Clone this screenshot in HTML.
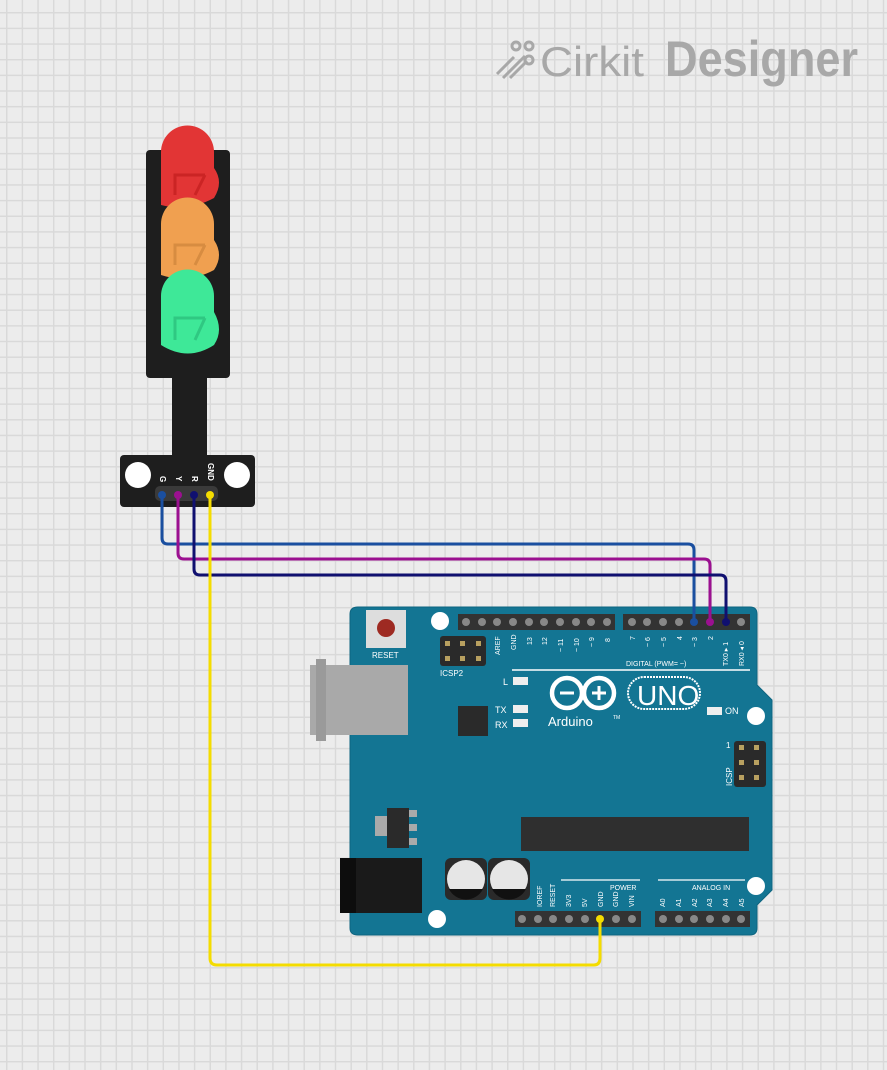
<!DOCTYPE html>
<html><head><style>
html,body{margin:0;padding:0}
body{width:887px;height:1070px;overflow:hidden;background-color:#ececec;
background-image:linear-gradient(to right,#d9d9d9 1.3px,transparent 1.3px),linear-gradient(to bottom,#d9d9d9 1.3px,transparent 1.3px);
background-size:15.67px 15.67px;background-position:6px 12px;font-family:"Liberation Sans",sans-serif}
svg{position:absolute;left:0;top:0}
</style></head><body>
<svg width="887" height="1070" viewBox="0 0 887 1070" font-family="Liberation Sans, sans-serif">
<!-- logo -->
<g stroke="#a8a8a8" stroke-width="3" fill="none">
<line x1="497" y1="74" x2="514" y2="57"/><line x1="503" y1="78" x2="525" y2="56"/><line x1="510" y1="78" x2="527" y2="61"/>
<circle cx="516" cy="46" r="4"/><circle cx="529" cy="46" r="4"/><circle cx="529" cy="60" r="4"/>
</g>
<text x="540" y="76" font-size="42" fill="#a8a8a8" textLength="104" lengthAdjust="spacingAndGlyphs">Cirkit</text>
<text x="665" y="76" font-size="50" font-weight="bold" fill="#a8a8a8" textLength="193" lengthAdjust="spacingAndGlyphs">Designer</text>

<!-- traffic light -->
<rect x="146" y="150" width="84" height="228" rx="4" fill="#1e1e1e"/>
<rect x="172" y="370" width="35" height="90" fill="#1e1e1e"/>
<rect x="120" y="455" width="135" height="52" rx="4" fill="#1e1e1e"/>
<circle cx="138" cy="475" r="13" fill="#fff"/><circle cx="237" cy="475" r="13" fill="#fff"/>
<g font-size="8" fill="#fff" font-weight="bold">
<text transform="translate(160,476) rotate(90)">G</text>
<text transform="translate(176,476) rotate(90)">Y</text>
<text transform="translate(192,476) rotate(90)">R</text>
<text transform="translate(208,463) rotate(90)">GND</text>
</g>
<rect x="155" y="486" width="63" height="15" rx="5" fill="#3a3a3a"/>
<g>
<path d="M161 205 V152 A26.5 26.5 0 0 1 214 152 V168 Q224 182 214 198 Q188 212 161 205 Z" fill="#e23535"/>
<path d="M161 275 V224 A26.5 26.5 0 0 1 214 224 V240 Q224 255 214 270 Q188 284 161 275 Z" fill="#f0a050"/>
<path d="M161 345 V296 A26.5 26.5 0 0 1 214 296 V312 Q224 330 214 345 Q188 362 161 345 Z" fill="#3ee898"/>
<g stroke-width="3" fill="none" opacity=".3"><path d="M175 195 L175 175 L205 175 M195 195 L205 175" stroke="#900"/><path d="M175 265 L175 245 L205 245 M195 265 L205 245" stroke="#a06020"/><path d="M175 340 L175 318 L205 318 M195 340 L205 318" stroke="#108050"/></g>
</g>

<!-- arduino -->
<path d="M358 607 H750 Q757 607 757 614 V685 L772 700 V890 L757 905 V928 Q757 935 750 935 H358 Q350 935 350 928 V614 Q350 607 358 607Z" fill="#137593" stroke="#0e6580"/>
<rect x="310" y="665" width="98" height="70" fill="#a9a9a9"/><rect x="316" y="659" width="10" height="82" fill="#9a9a9a"/>
<rect x="366" y="610" width="40" height="38" fill="#ddd"/><circle cx="386" cy="628" r="9" fill="#9e2a22"/>
<text x="372" y="658" font-size="8" fill="#fff">RESET</text>
<circle cx="440" cy="621" r="9" fill="#fff"/><circle cx="756" cy="716" r="9" fill="#fff"/><circle cx="756" cy="886" r="9" fill="#fff"/><circle cx="437" cy="919" r="9" fill="#fff"/>
<rect x="458" y="614" width="157" height="16" fill="#333"/><rect x="623" y="614" width="127" height="16" fill="#333"/>
<g fill="#888">
<circle cx="466" cy="622" r="4"/><circle cx="482" cy="622" r="4"/><circle cx="497" cy="622" r="4"/><circle cx="513" cy="622" r="4"/><circle cx="529" cy="622" r="4"/><circle cx="544" cy="622" r="4"/><circle cx="560" cy="622" r="4"/><circle cx="576" cy="622" r="4"/><circle cx="591" cy="622" r="4"/><circle cx="607" cy="622" r="4"/>
<circle cx="632" cy="622" r="4"/><circle cx="647" cy="622" r="4"/><circle cx="663" cy="622" r="4"/><circle cx="679" cy="622" r="4"/><circle cx="741" cy="622" r="4"/>
</g>
<rect x="440" y="636" width="46" height="30" rx="3" fill="#2a2a2a"/>
<g fill="#b8a060"><rect x="445" y="641" width="5" height="5"/><rect x="460" y="641" width="5" height="5"/><rect x="476" y="641" width="5" height="5"/><rect x="445" y="656" width="5" height="5"/><rect x="460" y="656" width="5" height="5"/><rect x="476" y="656" width="5" height="5"/></g>
<text x="440" y="676" font-size="8" fill="#fff">ICSP2</text>
<g font-size="7" fill="#fff">
<text transform="translate(500,655) rotate(-90)">AREF</text><text transform="translate(516,650) rotate(-90)">GND</text>
<text transform="translate(532,645) rotate(-90)">13</text><text transform="translate(547,645) rotate(-90)">12</text>
<text transform="translate(563,652) rotate(-90)">~ 11</text><text transform="translate(579,652) rotate(-90)">~ 10</text>
<text transform="translate(594,647) rotate(-90)">~ 9</text><text transform="translate(610,642) rotate(-90)">8</text>
<text transform="translate(635,640) rotate(-90)">7</text><text transform="translate(650,647) rotate(-90)">~ 6</text>
<text transform="translate(666,647) rotate(-90)">~ 5</text><text transform="translate(682,640) rotate(-90)">4</text>
<text transform="translate(697,647) rotate(-90)">~ 3</text><text transform="translate(713,640) rotate(-90)">2</text>
<text transform="translate(728,666) rotate(-90)">TX0 ▸ 1</text><text transform="translate(744,666) rotate(-90)">RX0 ◂ 0</text>
<text x="626" y="666">DIGITAL (PWM=   ~)</text>
</g>
<line x1="512" y1="670" x2="750" y2="670" stroke="#fff" stroke-width="1.5"/>
<g fill="#eee"><rect x="513" y="677" width="15" height="8"/><rect x="513" y="705" width="15" height="8"/><rect x="513" y="719" width="15" height="8"/><rect x="707" y="707" width="15" height="8"/></g>
<g font-size="9" fill="#fff"><text x="503" y="685">L</text><text x="495" y="713">TX</text><text x="495" y="728">RX</text><text x="725" y="714">ON</text></g>
<rect x="458" y="706" width="30" height="30" fill="#2a2a2a"/>
<g stroke="#fff" stroke-width="4.5" fill="none"><circle cx="567" cy="693" r="15"/><circle cx="599" cy="693" r="15"/></g>
<g stroke="#fff" stroke-width="3"><line x1="560" y1="693" x2="574" y2="693"/><line x1="592" y1="693" x2="606" y2="693"/><line x1="599" y1="686" x2="599" y2="700"/></g>
<rect x="628" y="677" width="72" height="32" rx="16" fill="none" stroke="#fff" stroke-width="2" stroke-dasharray="2 1"/>
<text x="637" y="705" font-size="28" fill="#fff">UNO</text>
<text x="548" y="726" font-size="13" fill="#fff">Arduino</text><text x="613" y="719" font-size="5" fill="#fff">TM</text>
<rect x="734" y="741" width="32" height="46" rx="3" fill="#2a2a2a"/>
<g fill="#b8a060"><rect x="739" y="745" width="5" height="5"/><rect x="739" y="760" width="5" height="5"/><rect x="739" y="775" width="5" height="5"/><rect x="754" y="745" width="5" height="5"/><rect x="754" y="760" width="5" height="5"/><rect x="754" y="775" width="5" height="5"/></g>
<text x="726" y="748" font-size="8" fill="#fff">1</text><text transform="translate(732,786) rotate(-90)" font-size="8" fill="#fff">ICSP</text>
<rect x="521" y="817" width="228" height="34" fill="#2f2f2f"/>
<rect x="375" y="816" width="12" height="20" fill="#aaa"/><rect x="387" y="808" width="22" height="40" fill="#2a2a2a"/><g fill="#aaa"><rect x="409" y="810" width="8" height="7"/><rect x="409" y="824" width="8" height="7"/><rect x="409" y="838" width="8" height="7"/></g>
<rect x="340" y="858" width="82" height="55" fill="#1a1a1a"/><rect x="340" y="858" width="16" height="55" fill="#0d0d0d"/>
<rect x="445" y="858" width="42" height="42" rx="6" fill="#2a2a2a"/><rect x="488" y="858" width="42" height="42" rx="6" fill="#2a2a2a"/>
<circle cx="466" cy="879" r="19" fill="#e6e6e6"/><circle cx="509" cy="879" r="19" fill="#e6e6e6"/>
<path d="M449 889 A19 19 0 0 0 483 889Z M492 889 A19 19 0 0 0 526 889Z" fill="#111"/>
<line x1="561" y1="880" x2="640" y2="880" stroke="#fff" stroke-width="1.2"/><line x1="658" y1="880" x2="745" y2="880" stroke="#fff" stroke-width="1.2"/>
<g font-size="7" fill="#fff"><text x="610" y="890">POWER</text><text x="692" y="890">ANALOG IN</text>
<text transform="translate(542,907) rotate(-90)">IOREF</text><text transform="translate(555,907) rotate(-90)">RESET</text>
<text transform="translate(571,907) rotate(-90)">3V3</text><text transform="translate(587,907) rotate(-90)">5V</text>
<text transform="translate(603,907) rotate(-90)">GND</text><text transform="translate(618,907) rotate(-90)">GND</text><text transform="translate(634,907) rotate(-90)">VIN</text>
<text transform="translate(665,907) rotate(-90)">A0</text><text transform="translate(681,907) rotate(-90)">A1</text><text transform="translate(697,907) rotate(-90)">A2</text><text transform="translate(712,907) rotate(-90)">A3</text><text transform="translate(728,907) rotate(-90)">A4</text><text transform="translate(744,907) rotate(-90)">A5</text></g>
<rect x="515" y="911" width="126" height="16" fill="#333"/><rect x="655" y="911" width="95" height="16" fill="#333"/>
<g fill="#888"><circle cx="522" cy="919" r="4"/><circle cx="538" cy="919" r="4"/><circle cx="553" cy="919" r="4"/><circle cx="569" cy="919" r="4"/><circle cx="585" cy="919" r="4"/><circle cx="616" cy="919" r="4"/><circle cx="632" cy="919" r="4"/>
<circle cx="663" cy="919" r="4"/><circle cx="679" cy="919" r="4"/><circle cx="694" cy="919" r="4"/><circle cx="710" cy="919" r="4"/><circle cx="726" cy="919" r="4"/><circle cx="741" cy="919" r="4"/></g>

<!-- wires -->
<g fill="none" stroke-width="3">
<path d="M162 495 V538 Q162 544 168 544 H688 Q694 544 694 550 V622" stroke="#1a4fa0"/>
<path d="M178 495 V553 Q178 559 184 559 H704 Q710 559 710 565 V622" stroke="#9b1090"/>
<path d="M194 495 V569 Q194 575 200 575 H720 Q726 575 726 581 V622" stroke="#101070"/>
<path d="M210 495 V958 Q210 965 217 965 H594 Q600 965 600 958 V919" stroke="#f4dc00"/>
</g>
<circle cx="162" cy="495" r="4" fill="#1a4fa0"/><circle cx="178" cy="495" r="4" fill="#9b1090"/><circle cx="194" cy="495" r="4" fill="#101070"/><circle cx="210" cy="495" r="4" fill="#f4dc00"/>
<circle cx="694" cy="622" r="4" fill="#1a4fa0"/><circle cx="710" cy="622" r="4" fill="#9b1090"/><circle cx="726" cy="622" r="4" fill="#101070"/><circle cx="600" cy="919" r="4" fill="#f4dc00"/>
</svg>
</body></html>
